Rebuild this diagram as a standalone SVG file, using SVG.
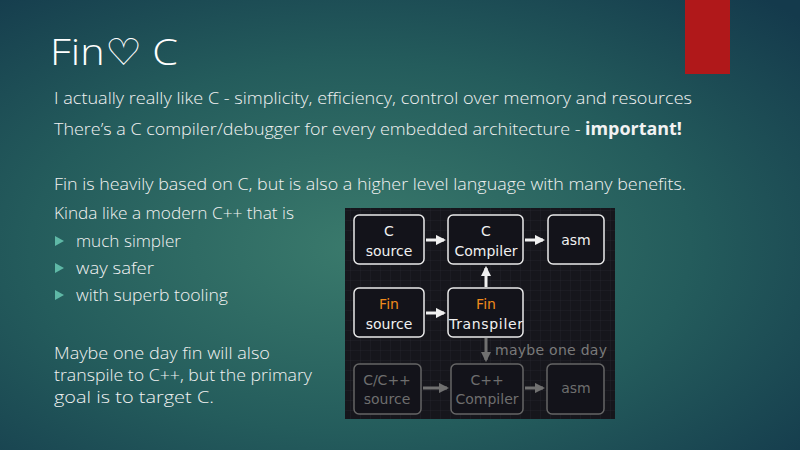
<svg xmlns="http://www.w3.org/2000/svg" width="800" height="450" viewBox="0 0 800 450">
<defs>
<radialGradient id="bg" cx="0.45" cy="0.55" r="0.75">
<stop offset="0" stop-color="#3a7a6c"/><stop offset="0.55" stop-color="#245c5c"/><stop offset="1" stop-color="#143a4c"/>
</radialGradient>
<pattern id="grid" width="10" height="10" patternUnits="userSpaceOnUse">
<path d="M10 0H0V10" fill="none" stroke="#2a2a32" stroke-width="0.6"/>
</pattern>
<marker id="aw" viewBox="0 0 10 10" refX="8" refY="5" markerWidth="3.5" markerHeight="3.5" orient="auto"><path d="M0 0L10 5L0 10z" fill="#f0f0f0"/></marker>
<marker id="ag" viewBox="0 0 10 10" refX="8" refY="5" markerWidth="3.5" markerHeight="3.5" orient="auto"><path d="M0 0L10 5L0 10z" fill="#707070"/></marker>
</defs>
<style>
.t{font-family:"Open Sans","Liberation Sans",sans-serif;fill:#f2f2f2;font-size:17px;font-weight:300}
.b{fill:#13131a;stroke:#eaeaea;stroke-width:1.5}
.g{fill:#13131a;stroke:#666;stroke-width:1.5}
.n{font-family:"DejaVu Sans",sans-serif;font-size:14px;fill:#f0f0f0;text-anchor:middle}
.ng{font-family:"DejaVu Sans",sans-serif;font-size:14px;fill:#6e6e6e;text-anchor:middle}
.o{fill:#f08a1c}
.w{stroke:#f0f0f0;stroke-width:3;fill:none}
.gr{stroke:#707070;stroke-width:3;fill:none}
.tri{fill:#5fb8a6}
</style>
<rect width="800" height="450" fill="url(#bg)"/>
<rect x="685" y="0" width="45" height="74" fill="#b0181a"/>
<text x="50" y="65" font-family="Open Sans,Liberation Sans,sans-serif" font-size="37" fill="#fff" font-weight="300" textLength="128" lengthAdjust="spacingAndGlyphs">Fin<tspan font-family="DejaVu Sans">♡</tspan> C</text>
<g lengthAdjust="spacingAndGlyphs">
<text class="t" x="54" y="104" textLength="638" lengthAdjust="spacingAndGlyphs">I actually really like C - simplicity, efficiency, control over memory and resources</text>
<text class="t" x="54" y="135" textLength="628" lengthAdjust="spacingAndGlyphs">There’s a C compiler/debugger for every embedded architecture - <tspan font-weight="bold">important!</tspan></text>
<text class="t" x="54" y="190" textLength="632" lengthAdjust="spacingAndGlyphs">Fin is heavily based on C, but is also a higher level language with many benefits.</text>
<text class="t" x="54" y="219" textLength="240" lengthAdjust="spacingAndGlyphs">Kinda like a modern C++ that is</text>
<path class="tri" d="M55 236l9 5l-9 5z"/><text class="t" x="76" y="247" textLength="105" lengthAdjust="spacingAndGlyphs">much simpler</text>
<path class="tri" d="M55 263l9 5l-9 5z"/><text class="t" x="76" y="274" textLength="78" lengthAdjust="spacingAndGlyphs">way safer</text>
<path class="tri" d="M55 290l9 5l-9 5z"/><text class="t" x="76" y="301" textLength="152" lengthAdjust="spacingAndGlyphs">with superb tooling</text>
<text class="t" x="54" y="359" textLength="216" lengthAdjust="spacingAndGlyphs">Maybe one day fin will also</text>
<text class="t" x="54" y="381" textLength="258" lengthAdjust="spacingAndGlyphs">transpile to C++, but the primary</text>
<text class="t" x="54" y="403" textLength="160" lengthAdjust="spacingAndGlyphs">goal is to target C.</text>
</g>
<rect x="345" y="208" width="270" height="211" fill="#16161c"/>
<rect x="345" y="208" width="270" height="211" fill="url(#grid)"/>
<g id="connectors">
<path class="w" d="M426 240H444" marker-end="url(#aw)"/>
<path class="w" d="M525 240H543" marker-end="url(#aw)"/>
<path class="w" d="M426 313H444" marker-end="url(#aw)"/>
<path class="w" d="M486 287V268" marker-end="url(#aw)"/>
<path class="gr" d="M486 338V360" marker-end="url(#ag)"/>
<path class="gr" d="M423 388H447" marker-end="url(#ag)"/>
<path class="gr" d="M525 388H543" marker-end="url(#ag)"/>
<text x="495" y="355" font-family="DejaVu Sans,sans-serif" font-size="14" fill="#7a7a7a" textLength="112">maybe one day</text>
</g>
<g id="csrc"><rect class="b" x="354" y="215" width="70" height="49" rx="5"/><text class="n" x="389" y="236">C</text><text class="n" x="389" y="256">source</text></g>
<g id="ccomp"><rect class="b" x="448" y="215" width="75" height="49" rx="5"/><text class="n" x="486" y="236">C</text><text class="n" x="486" y="256">Compiler</text></g>
<g id="asm1"><rect class="b" x="548" y="215" width="56" height="49" rx="5"/><text class="n" x="576" y="245">asm</text></g>
<g id="finsrc"><rect class="b" x="354" y="288" width="70" height="49" rx="5"/><text class="n o" x="389" y="309">Fin</text><text class="n" x="389" y="329">source</text></g>
<g id="fintr"><rect class="b" x="448" y="288" width="75" height="49" rx="5"/><text class="n o" x="486" y="309">Fin</text><text class="n" x="486" y="329" textLength="74">Transpiler</text></g>
<g id="cppsrc"><rect class="g" x="354" y="364" width="67" height="50" rx="5"/><text class="ng" x="387" y="385">C/C++</text><text class="ng" x="387" y="404">source</text></g>
<g id="cppcomp"><rect class="g" x="451" y="364" width="72" height="50" rx="5"/><text class="ng" x="487" y="385">C++</text><text class="ng" x="487" y="404">Compiler</text></g>
<g id="asm2"><rect class="g" x="547" y="364" width="57" height="50" rx="5"/><text class="ng" x="576" y="393">asm</text></g>
</svg>
